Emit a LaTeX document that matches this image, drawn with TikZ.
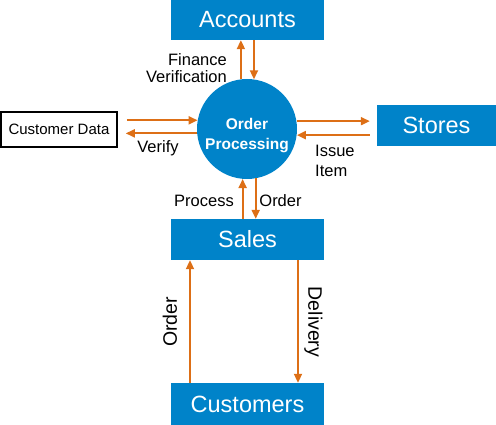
\documentclass[tikz,border=0pt]{standalone}
\usepackage{fontspec}
\setmainfont{Liberation Sans}
\usetikzlibrary{arrows.meta,calc}
\definecolor{bblue}{RGB}{0,131,201}
\definecolor{orng}{RGB}{221,111,22}
\begin{document}
\begin{tikzpicture}[x=1pt,y=-1pt,
 box/.style={fill=bblue, text=white, inner sep=0, font=\fontsize{23.5}{28}\selectfont},
 arr/.style={draw=orng, line width=2pt, -{Triangle[length=9pt,width=8pt]}},
 lbl/.style={inner sep=0, font=\fontsize{16.5}{20}\selectfont},
 vlbl/.style={inner sep=0, font=\fontsize{19.5}{22}\selectfont},
]
\useasboundingbox (0,0) rectangle (496,425);
\node[box, minimum width=153pt, minimum height=40pt] (acc) at (247.5,20) {Accounts};
\node[box, minimum width=119pt, minimum height=41pt] (sto) at (436.5,125.5) {Stores};
\node[box, minimum width=153pt, minimum height=41pt] (sal) at (247.5,239.5) {Sales};
\node[box, minimum width=153pt, minimum height=42pt] (cus) at (247.5,404) {Customers};
\node[draw=black, line width=1.5pt, minimum width=116pt, minimum height=35pt, inner sep=0, font=\fontsize{15}{18}\selectfont] (cd) at (59,129.5) {Customer Data};
\node[circle, fill=bblue, minimum size=100pt, inner sep=0] (op) at (247,129) {};
\node[text=white, font=\bfseries\fontsize{15.5}{20}\selectfont, align=center, inner sep=0] (opt) at (247,136) {Order\\Processing};

% arrows
\draw[arr] (op.97.5) -- (op.97.5 |- acc.south);
\draw[arr] (op.82 |- acc.south) -- (op.82);
\draw[arr] ($(cd.east |- op.170)+(9,0)$) -- (op.170);
\draw[arr] (op.185) -- ($(cd.east |- op.185)+(8,0)$);
\draw[arr] (op.9) -- ($(sto.west |- op.9)+(-7,0)$);
\draw[arr] ($(sto.west |- op.353)+(-7,0)$) -- (op.353);
\draw[arr] (op.265 |- sal.north) -- (op.265);
\draw[arr] (op.280) -- (op.280 |- sal.north);
\draw[arr] ($(cus.north)+(-57.5,0)$) -- ($(sal.south)+(-57.5,0)$);
\draw[arr] ($(sal.south)+(50.5,0)$) -- ($(cus.north)+(50.5,0)$);

% labels
\node[lbl, align=right, anchor=east, font=\fontsize{16.5}{17.5}\selectfont] (lfin) at (227,68) {Finance\\Verification};
\node[lbl, anchor=base] (lver) at (158,153) {Verify};
\node[lbl, align=left, anchor=west] (liss) at (315,161) {Issue\\Item};
\node[lbl, anchor=base] (lpro) at (204,207) {Process};
\node[lbl, anchor=base] (lord) at (280.5,207) {Order};
\node[vlbl, rotate=90] (lord2) at (170,322) {Order};
\node[vlbl, rotate=-90] (ldel) at (313.5,322) {Delivery};
\end{tikzpicture}
\end{document}
